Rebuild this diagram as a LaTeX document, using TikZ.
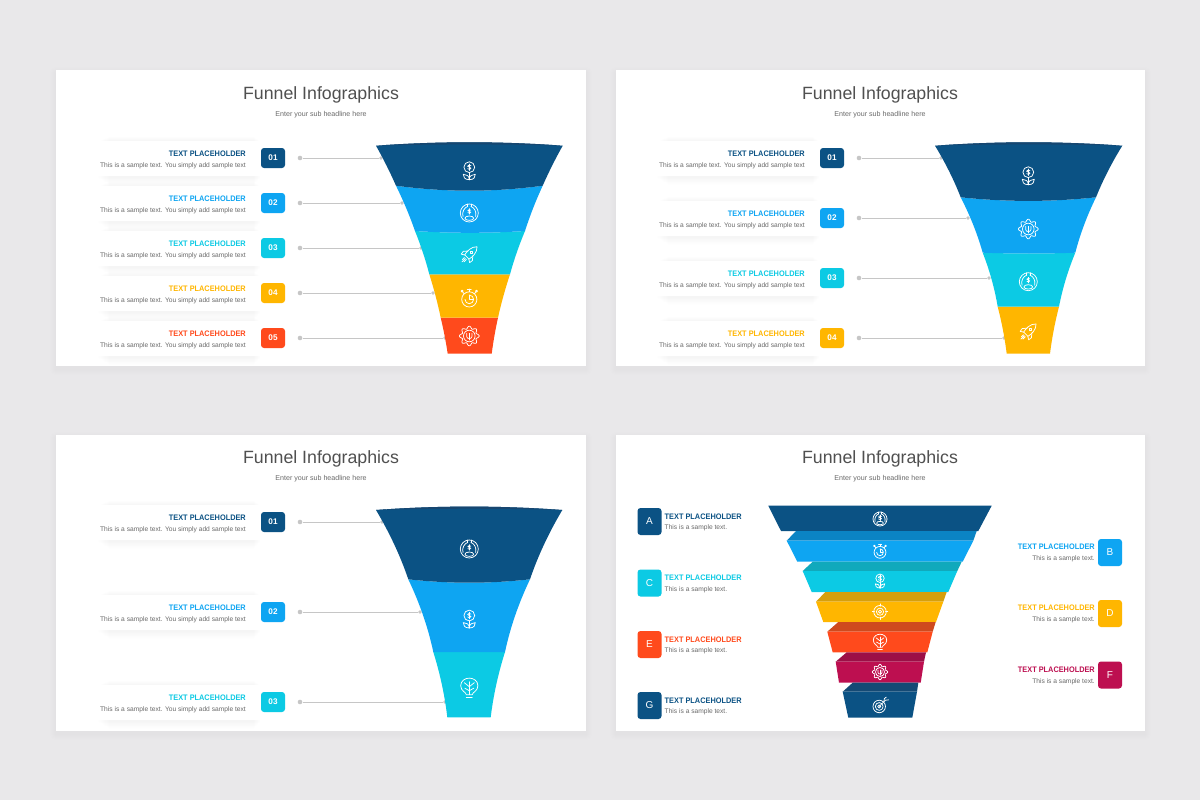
\documentclass[tikz,border=0pt]{standalone}
\usepackage{fontspec}
\setmainfont{Liberation Sans}
\newfontfamily\rowfont[FakeStretch=0.92]{Liberation Sans Bold}
\definecolor{pagebg}{HTML}{E9E8EA}
\definecolor{cdark}{HTML}{0B5284}
\definecolor{cblue}{HTML}{0EA5F2}
\definecolor{ccyan}{HTML}{0CCAE4}
\definecolor{cyell}{HTML}{FFB600}
\definecolor{coran}{HTML}{FF4A1C}
\definecolor{ccrim}{HTML}{BD0F50}
\definecolor{sblue}{HTML}{0B84C4}
\definecolor{scyan}{HTML}{10A9BC}
\definecolor{syell}{HTML}{D69F0C}
\definecolor{soran}{HTML}{CF4A1E}
\definecolor{scrim}{HTML}{9C0F47}
\definecolor{sdark}{HTML}{154A75}
\definecolor{ctop}{HTML}{174670}
\definecolor{linegrey}{HTML}{C6C6C6}
\definecolor{subgrey}{HTML}{6A6A6A}
\definecolor{titlegrey}{HTML}{505050}
\tikzset{
  x=1pt,y=-1pt,
  icon/.style={draw=white,line width=.75pt,line cap=round,line join=round},
  slidetitle/.style={inner sep=0pt,anchor=mid,text=titlegrey,font=\fontsize{17.75}{20}\selectfont},
  slidesub/.style={inner sep=0pt,anchor=mid,text=subgrey,font=\fontsize{7.1}{9}\selectfont},
  rowtitle/.style={inner sep=0pt,font=\rowfont\fontsize{8}{10}\selectfont},
  rowsub/.style={inner sep=0pt,text=subgrey,font=\fontsize{6.65}{9}\selectfont},
  numbox/.style={rounded corners=3pt,inner sep=0pt,minimum width=24pt,minimum height=20pt,text=white,font=\bfseries\fontsize{8.2}{10}\selectfont},
  letterbox/.style={rounded corners=3pt,inner sep=0pt,minimum width=24pt,minimum height=27pt,text=white,font=\fontsize{10}{12}\selectfont},
  dotmark/.style={circle,fill=linegrey,inner sep=0pt,minimum size=4.6pt},
  connector/.style={draw=linegrey,line width=.8pt},
  pics/dollarmark/.style={code={
    \draw[icon] (1.7,-1.4) .. controls (1,-2.5) and (-1.7,-2.5) .. (-1.7,-.9) .. controls (-1.7,.6) and (1.7,-.6) .. (1.7,1) .. controls (1.7,2.5) and (-1,2.5) .. (-1.7,1.4);
    \draw[icon] (0,-3.2)--(0,3.2);
  }},
  pics/icoplant/.style={code={
    \draw[icon] (0,-3.5) circle[radius=5.4];
    \pic at (0,-3.5) {dollarmark};
    \draw[icon] (0,1.9)--(0,9);
    \draw[icon] (0,9) .. controls (-5,9) and (-6,6) .. (-6,3.6) .. controls (-3,3.6) and (0,5) .. (0,9);
    \draw[icon] (0,9) .. controls (5,9) and (6,6) .. (6,3.6) .. controls (3,3.6) and (0,5) .. (0,9);
  }},
  pics/icopeople/.style={code={
    \draw[icon] (0,0) circle[radius=9];
    \draw[icon] (-6.3,3.5) .. controls (-7.6,-1) and (-5,-5.4) .. (-1.6,-6.6);
    \draw[icon] (6.3,3.5) .. controls (7.6,-1) and (5,-5.4) .. (1.6,-6.6);
    \pic[scale=.85] at (0,-1.6) {dollarmark};
    \draw[icon] (0,5.2) ellipse[x radius=4.4,y radius=2.2];
    \draw[icon] (-1.6,-9)--(-1.6,-6.6) (1.6,-9)--(1.6,-6.6);
  }},
  pics/icorocket/.style={code={
    \begin{scope}[rotate=-45]
    \draw[icon] (0,-11) .. controls (4.4,-7) and (4,0) .. (3,3.5) -- (-3,3.5) .. controls (-4,0) and (-4.4,-7) .. (0,-11);
    \draw[icon] (0,-3) circle[radius=1.8];
    \draw[icon] (-3.4,-1.5) -- (-6.5,2) -- (-6,5.5) -- (-2.8,3.5);
    \draw[icon] (3.4,-1.5) -- (6.5,2) -- (6,5.5) -- (2.8,3.5);
    \draw[icon] (-1.4,5.5)--(-1.4,8.5) (1.4,5.5)--(1.4,9) (0,5.5)--(0,10.5);
    \end{scope}
  }},
  pics/icowatch/.style={code={
    \draw[icon] (0,1.7) circle[radius=7.6];
    \draw[icon] (0,-2.6) arc[start angle=-90,end angle=180,radius=4.3];
    \draw[icon] (0,-2.6)--(0,1.7)--(3.4,1.7);
    \draw[icon] (0,-6)--(0,-8.6) (-2,-8.6)--(2,-8.6);
    \draw[icon] (-5.2,-4)--(-6.8,-6) (5.2,-4)--(6.8,-6);
    \draw[icon] (-7.2,-6.6) circle[radius=1] (7.2,-6.6) circle[radius=1];
  }},
  pics/icogear/.style={code={
    \draw[icon] plot[domain=0:360,samples=65,smooth] ({(8.6+1.3*cos(8*\x))*cos(\x)},{(8.6+1.3*cos(8*\x))*sin(\x)}) -- cycle;
    \draw[icon] (0,0) circle[radius=5.8];
    \draw[icon] (-2.6,-2.6) -- (-2.6,.6) .. controls (-2.6,3.2) and (2.6,3.2) .. (2.6,.6) -- (2.6,-2.6);
    \draw[icon] (0,-2.6)--(0,4);
  }},
  pics/icobrain/.style={code={
    \draw[icon] (-3,7) .. controls (-3,4.5) and (-8.6,3.5) .. (-8.6,-2) .. controls (-8.6,-7) and (-4,-9.6) .. (0,-9.6) .. controls (4,-9.6) and (8.6,-7) .. (8.6,-2) .. controls (8.6,3.5) and (3,4.5) .. (3,7) -- cycle;
    \draw[icon] (-3,9.2)--(3,9.2) (0,7)--(0,-6);
    \draw[icon] (0,-1)--(-5,-5) (0,-1)--(5,-5) (0,3)--(-4.5,.5) (0,3)--(4.5,.5);
  }},
  pics/icodart/.style={code={
    \draw[icon] (-1,1) circle[radius=8];
    \draw[icon] (-1,1) circle[radius=5];
    \draw[icon] (-1,1) circle[radius=2];
    \draw[icon] (-1,1)--(7,-7);
    \draw[icon] (5,-5)--(5.5,-9)--(8,-11) (7,-7)--(11,-7.5);
  }},
  pics/icocross/.style={code={
    \draw[icon] (0,0) circle[radius=8];
    \draw[icon] (0,0) circle[radius=4.6];
    \draw[icon] (0,0) circle[radius=2];
    \draw[icon] (0,-10)--(0,-7) (0,10)--(0,7) (-10,0)--(-7,0) (10,0)--(7,0);
  }}
}
% slide: left, top, right, bottom, centre x, title y, subtitle y, name
\newcommand{\slidecard}[8]{%
  \foreach \k in {1,...,6}{\fill[black,opacity=.004,rounded corners=\k pt] ({#1-\k},{#2-\k+3}) rectangle ({#3+\k},{#4+\k+3});}
  \fill[white] (#1,#2) rectangle (#3,#4);
  \node[slidetitle] (t#8) at (#5,#6) {Funnel Infographics};
  \node[slidesub] (s#8) at (#5,#7) {Enter your sub headline here};
}
% soft shadow strips above and below a label panel: x offset, centre y
\newcommand{\panelshadow}[2]{%
  \foreach \k in {1,...,10}{\fill[black,opacity=.0035] ({#1+97+\k*1.2},{#2-17-\k*.55+1}) rectangle ({#1+261-\k*.7},{#2+18+\k*.75+1});}
}
\newcommand{\panelwhite}[2]{\fill[white] ({#1+94},{#2-17}) rectangle ({#1+262},{#2+18});}
% row: name, x offset, y, colour, number, line-end x
\newcommand{\rowlabel}[6]{%
  \node[rowtitle,text=#4,anchor=mid east] (rt#1) at ({#2+246},{#3-4.4}) {TEXT PLACEHOLDER};
  \node[rowsub,anchor=mid east] (rs#1) at ({#2+246},{#3+6.5}) {This is a sample text. You simply add sample text};
  \node[numbox,fill=#4] (box#1) at ({#2+273},#3) {#5};
  \node[dotmark] (dot#1) at ({#2+300},#3) {};
  \node[dotmark,minimum size=3.6pt] (end#1) at (#6,#3) {};
  \draw[connector] (dot#1) -- (end#1);
}
% band: colour, xl1,xr1,y1,bulge1, xl2,xr2,y2,bulge2, side bow
\newcommand{\band}[9]{\def\bA{#1}\def\bB{#2}\def\bC{#3}\def\bD{#4}\def\bE{#5}\def\bF{#6}\def\bG{#7}\def\bH{#8}\def\bI{#9}\bandfinish}
\newcommand{\bandfinish}[1]{%
  \fill[\bA] (\bB,\bD)
    .. controls ({\bB+(\bC-\bB)/3},{\bD+\bE*4/3}) and ({\bC-(\bC-\bB)/3},{\bD+\bE*4/3}) .. (\bC,\bD)
    .. controls ({\bC+(\bG-\bC)/3-#1*4/3},{\bD+(\bH-\bD)/3}) and ({\bC+(\bG-\bC)*2/3-#1*4/3},{\bD+(\bH-\bD)*2/3}) .. (\bG,\bH)
    .. controls ({\bG-(\bG-\bF)/3},{\bH+\bI*4/3}) and ({\bF+(\bG-\bF)/3},{\bH+\bI*4/3}) .. (\bF,\bH)
    .. controls ({\bF+(\bB-\bF)/3+#1*4/3},{\bH+(\bD-\bH)/3}) and ({\bF+(\bB-\bF)*2/3+#1*4/3},{\bH+(\bD-\bH)*2/3}) .. (\bB,\bD) -- cycle;
}
% lens at top of a funnel: xl,xr,y,bulge
\newcommand{\toplens}[4]{%
  \fill[ctop] (#1,#3) .. controls ({#1+(#2-#1)/3},{#3+#4*4/3}) and ({#2-(#2-#1)/3},{#3+#4*4/3}) .. (#2,#3)
   .. controls ({#2-(#2-#1)/3},{#3+#4*.5}) and ({#1+(#2-#1)/3},{#3+#4*.5}) .. (#1,#3) -- cycle;
}
% stepped band: shade, face, outer-left x, inner-left x, shade top y, face top y, inner-right x, outer-right x, bottom-right x, then bottom-left x, bottom y
\newcommand{\stepband}[9]{\def\sA{#1}\def\sB{#2}\def\sC{#3}\def\sD{#4}\def\sE{#5}\def\sF{#6}\def\sG{#7}\def\sH{#8}\def\sI{#9}\stepfinish}
\newcommand{\stepfinish}[2]{%
  \fill[\sA] (\sC,\sF) -- (\sD,\sE) -- (\sG,\sE) -- (\sH,\sF) -- cycle;
  \fill[\sB] (\sC,\sF) -- (\sH,\sF) -- (\sI,#2) -- (#1,#2) -- cycle;
}
% left/right letter rows
\newcommand{\letterleft}[3]{%
  \node[letterbox,fill=#2] (lb#1) at (649.5,#3) {#1};
  \node[rowtitle,text=#2,anchor=mid west] (lt#1) at (664.5,{#3-5}) {TEXT PLACEHOLDER};
  \node[rowsub,anchor=mid west] (ls#1) at (664.5,{#3+5.8}) {This is a sample text.};
}
\newcommand{\letterright}[3]{%
  \node[letterbox,fill=#2] (lb#1) at (1110,#3) {#1};
  \node[rowtitle,text=#2,anchor=mid east] (lt#1) at (1095,{#3-5.4}) {TEXT PLACEHOLDER};
  \node[rowsub,anchor=mid east] (ls#1) at (1095,{#3+5.5}) {This is a sample text.};
}
\begin{document}
\begin{tikzpicture}
\useasboundingbox (0,0) rectangle (1200,800);
\fill[pagebg] (0,0) rectangle (1200,800);
\slidecard{56}{70}{586}{366}{321}{96.5}{113.5}{a}
\slidecard{616}{70}{1145}{366}{880}{96.5}{113.5}{b}
\slidecard{56}{435}{586}{731}{321}{461}{477.5}{c}
\slidecard{616}{435}{1145}{731}{880}{461}{477.5}{d}
% --- slide 1
\foreach \yy in {158,203,248,293,338}{\panelshadow{0}{\yy}}
\foreach \yy in {158,203,248,293,338}{\panelwhite{0}{\yy}}
\rowlabel{a1}{0}{158}{cdark}{01}{381}
\rowlabel{a2}{0}{203}{cblue}{02}{402}
\rowlabel{a3}{0}{248}{ccyan}{03}{421}
\rowlabel{a4}{0}{293}{cyell}{04}{433}
\rowlabel{a5}{0}{338}{coran}{05}{445}
\band{coran}{440.7}{498}{317.7}{0}{447.7}{491.7}{353.7}{0}{.4}
\band{cyell}{429.3}{510}{274.3}{0}{440.7}{498}{317.7}{0}{.6}
\band{ccyan}{415}{525}{231}{1.8}{429.3}{510}{274.3}{0}{.8}
\band{cblue}{396}{542.7}{185.7}{5}{415}{525}{231}{1.8}{.8}
\band{cdark}{376}{562.7}{145.7}{-3.4}{396}{542.7}{185.7}{5}{.6}
\toplens{376}{562.7}{145.7}{-3.4}
\pic at (469.3,170.7) {icoplant};
\pic at (469.3,213) {icopeople};
\pic at (469.3,254.5) {icorocket};
\pic at (469.3,297.7) {icowatch};
\pic at (469.3,336) {icogear};
% --- slide 2
\foreach \yy in {158,218,278,338}{\panelshadow{559}{\yy}}
\foreach \yy in {158,218,278,338}{\panelwhite{559}{\yy}}
\rowlabel{b1}{559}{158}{cdark}{01}{941}
\rowlabel{b2}{559}{218}{cblue}{02}{968}
\rowlabel{b3}{559}{278}{ccyan}{03}{989}
\rowlabel{b4}{559}{338}{cyell}{04}{1004}
\band{cyell}{997.7}{1059}{306.7}{0}{1006.7}{1050}{353.7}{0}{.8}
\band{ccyan}{982.7}{1075.3}{252.7}{.8}{997.7}{1059}{306.7}{0}{1.5}
\band{cblue}{960.7}{1096}{197.3}{3.6}{982.7}{1075.3}{252.7}{.8}{1.6}
\band{cdark}{935}{1122.3}{145.7}{-3.4}{960.7}{1096}{197.3}{3.6}{1.4}
\toplens{935}{1122.3}{145.7}{-3.4}
\pic at (1028.3,175.7) {icoplant};
\pic at (1028.3,229) {icogear};
\pic at (1028.3,281.7) {icopeople};
\pic at (1028.3,331.7) {icorocket};
% --- slide 3
\foreach \yy in {522,612,702}{\panelshadow{0}{\yy}}
\foreach \yy in {522,612,702}{\panelwhite{0}{\yy}}
\rowlabel{c1}{0}{522}{cdark}{01}{382}
\rowlabel{c2}{0}{612}{cblue}{02}{420}
\rowlabel{c3}{0}{702}{ccyan}{03}{445}
\band{ccyan}{433.3}{505}{652}{0}{447.3}{490.7}{717.3}{0}{1.6}
\band{cblue}{408.3}{530}{579.3}{3.4}{433.3}{505}{652}{0}{2.4}
\band{cdark}{376}{562.3}{510}{-3.4}{408.3}{530}{579.3}{3.4}{2.2}
\toplens{376}{562.3}{510}{-3.4}
\pic at (469.3,549) {icopeople};
\pic at (469.3,619) {icoplant};
\pic at (469.3,687.7) {icobrain};
% --- slide 4
\fill[cdark] (768.3,505.7) -- (991.7,505.7) -- (978.3,531) -- (781,531) -- cycle;
\stepband{sblue}{cblue}{786.7}{796}{531}{540.7}{976.7}{973.3}{962.7}{797.3}{561.7}
\stepband{scyan}{ccyan}{802.7}{812.7}{561.7}{571}{961.7}{957.3}{948.3}{811.7}{592}
\stepband{syell}{cyell}{816}{825.3}{592}{601.7}{946.7}{943.3}{936}{823.3}{622}
\stepband{soran}{coran}{827.3}{838.3}{622}{631.7}{935.7}{932.7}{927.3}{832.7}{652.3}
\stepband{scrim}{ccrim}{835.7}{846.7}{652.3}{661.7}{926}{924}{920.7}{839}{682.7}
\stepband{sdark}{cdark}{842.7}{852.7}{682.7}{691.7}{918.3}{917}{912.3}{848.3}{717.7}
\pic[scale=.78] at (880,519) {icopeople};
\pic[scale=.78] at (880,551) {icowatch};
\pic[scale=.78] at (880,581) {icoplant};
\pic[scale=.78] at (880,611.7) {icocross};
\pic[scale=.78] at (880,641.7) {icobrain};
\pic[scale=.78] at (880,672) {icogear};
\pic[scale=.78] at (880,705.7) {icodart};
\letterleft{A}{cdark}{521.5}
\letterleft{C}{ccyan}{583}
\letterleft{E}{coran}{644.5}
\letterleft{G}{cdark}{705.5}
\letterright{B}{cblue}{552.5}
\letterright{D}{cyell}{613.5}
\letterright{F}{ccrim}{675}
\end{tikzpicture}
\end{document}
